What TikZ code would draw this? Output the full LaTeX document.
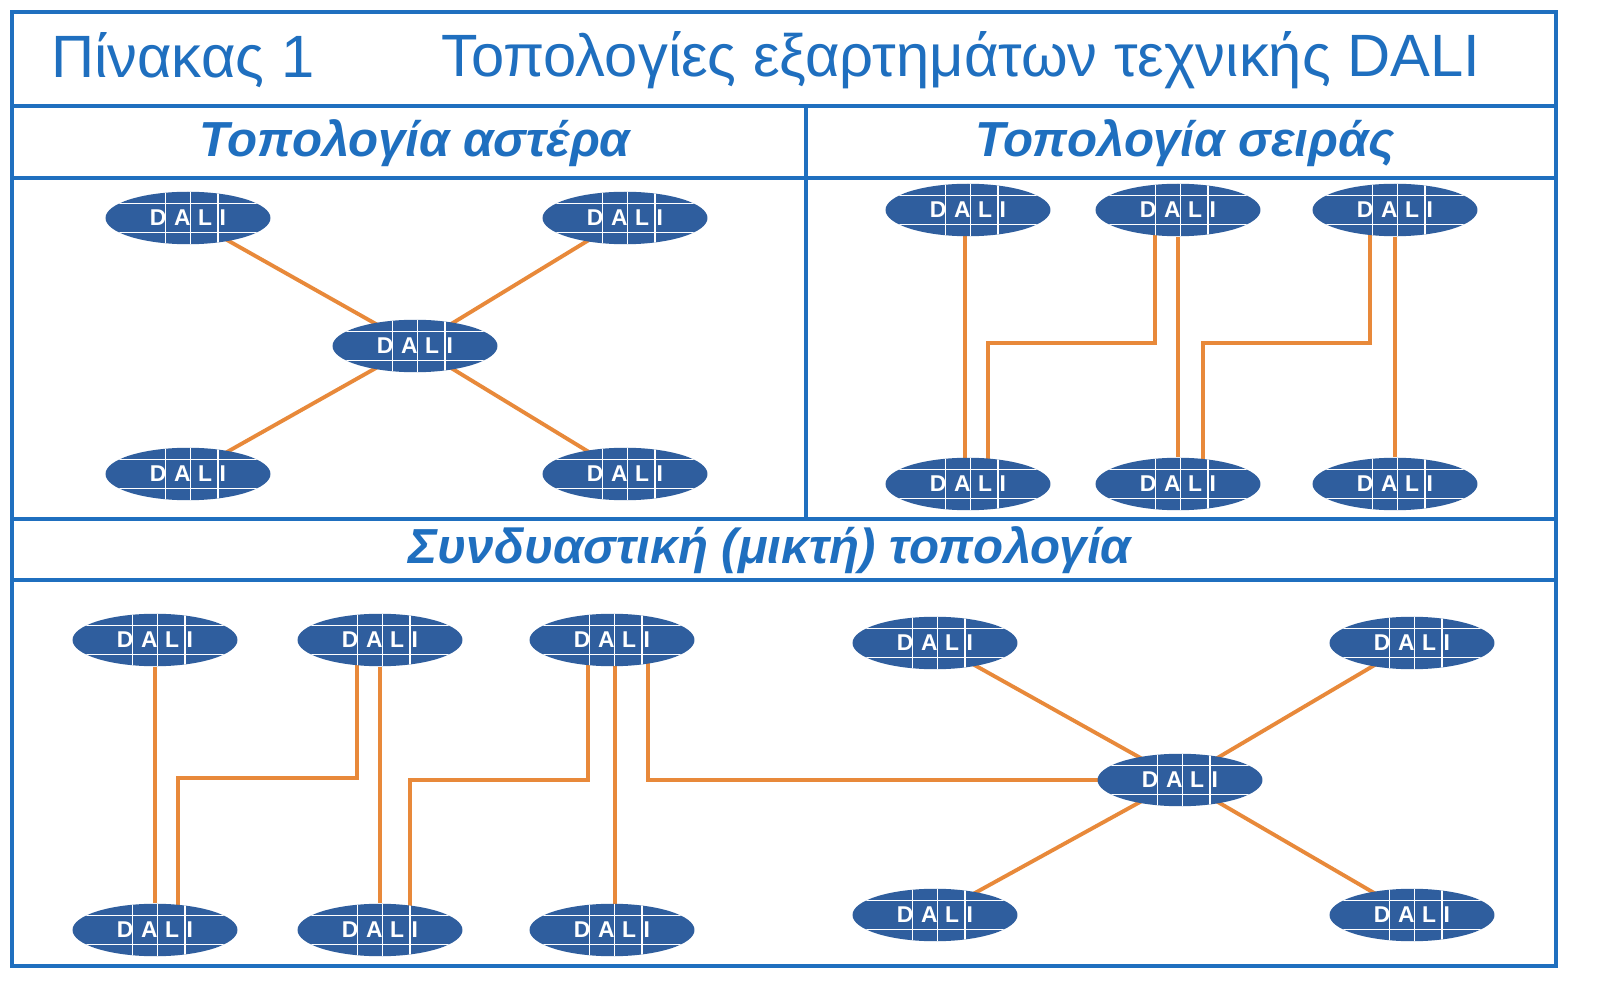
\documentclass[tikz,border=0pt]{standalone}
\usepackage{fontspec}
\setmainfont{Liberation Sans}
\usetikzlibrary{shapes.geometric,calc,backgrounds}
\definecolor{tblue}{HTML}{1F6FBF}
\definecolor{dblue}{HTML}{2F5E9E}
\definecolor{wire}{HTML}{E8893A}
\tikzset{
 dali/.style={ellipse,fill=dblue,minimum width=3.3cm,minimum height=1.05cm,inner sep=0pt,
  text=white,font=\bfseries\fontsize{13}{13}\selectfont,
  path picture={
   \draw[white,line width=0.8pt]
    ([yshift=-0.24cm]path picture bounding box.north west)--([yshift=-0.24cm]path picture bounding box.north east)
    ([yshift=0.24cm]path picture bounding box.south west)--([yshift=0.24cm]path picture bounding box.south east)
    ([xshift=-0.45cm]path picture bounding box.north)--([xshift=-0.45cm]path picture bounding box.south)
    ([xshift=0.05cm]path picture bounding box.north)--([xshift=0.05cm]path picture bounding box.south)
    ([xshift=0.6cm]path picture bounding box.north)--([xshift=0.6cm]path picture bounding box.south);
  }},
 wirel/.style={wire,line width=2.2pt},
 frame/.style={tblue,line width=2.5pt},
 head/.style={text=tblue,font=\bfseries\itshape\fontsize{28}{28}\selectfont},
 ttl/.style={text=tblue,font=\fontsize{34}{34}\selectfont,anchor=west}
}
\newcommand{\DL}{D\,\,A\,\,L\,\,I}
\begin{document}
\begin{tikzpicture}[x=0.02cm,y=-0.02cm]
% titles
\node[ttl] (t1) at (45,60) {Πίνακας 1};
\node[ttl] (t2) at (435,60) {Τοπολογίες εξαρτημάτων τεχνικής DALI};
\node[head] (h1) at (415,143) {Τοπολογία αστέρα};
\node[head] (h2) at (1185,143) {Τοπολογία σειράς};
\node[head] (h3) at (770,550) {Συνδυαστική (μικτή) τοπολογία};
% star
\node[dali] (a1) at (188,218) {\DL};
\node[dali] (a2) at (625,218) {\DL};
\node[dali] (ac) at (415,346) {\DL};
\node[dali] (a3) at (188,474) {\DL};
\node[dali] (a4) at (625,474) {\DL};
% series
\node[dali] (s1) at (968,210) {\DL};
\node[dali] (s2) at (1178,210) {\DL};
\node[dali] (s3) at (1395,210) {\DL};
\node[dali] (b1) at (968,484) {\DL};
\node[dali] (b2) at (1178,484) {\DL};
\node[dali] (b3) at (1395,484) {\DL};
% mixed
\node[dali] (m1) at (155,640) {\DL};
\node[dali] (m2) at (380,640) {\DL};
\node[dali] (m3) at (612,640) {\DL};
\node[dali] (n1) at (155,930) {\DL};
\node[dali] (n2) at (380,930) {\DL};
\node[dali] (n3) at (612,930) {\DL};
\node[dali] (x1) at (935,643) {\DL};
\node[dali] (x2) at (1412,643) {\DL};
\node[dali] (xc) at (1180,780) {\DL};
\node[dali] (x3) at (935,915) {\DL};
\node[dali] (x4) at (1412,915) {\DL};
\begin{scope}[on background layer]
\fill[white] (0,0) rectangle (1600,996);
\foreach \o in {a1,a2,a3,a4} \draw[wirel] (ac.center)--(\o.center);
\foreach \o in {x1,x2,x3,x4} \draw[wirel] (xc.center)--(\o.center);
\draw[wirel] ($(s1)+(-3,0)$)--($(b1)+(-3,0)$);
\draw[wirel] ($(s2)+(-23,0)$)--($(s2)+(-23,133)$)-|($(b1)+(20,0)$);
\draw[wirel] (s2)--(b2);
\draw[wirel] ($(s3)+(-25,0)$)--($(s3)+(-25,133)$)-|($(b2)+(25,0)$);
\draw[wirel] (s3)--(b3);
\draw[wirel] (m1)--(n1);
\draw[wirel] ($(m2)+(-23,0)$)--($(m2)+(-23,138)$)-|($(n1)+(23,0)$);
\draw[wirel] (m2)--(n2);
\draw[wirel] ($(m3)+(-24,0)$)--($(m3)+(-24,140)$)-|($(n2)+(30,0)$);
\draw[wirel] ($(m3)+(3,0)$)--($(n3)+(3,0)$);
\draw[wirel] ($(m3)+(36,0)$)|-(xc.center);
\end{scope}
% frames
\draw[frame] (12,12) rectangle (1556,966);
\draw[frame] (12,106)--(1556,106);
\draw[frame] (12,178)--(1556,178);
\draw[frame] (12,519)--(1556,519);
\draw[frame] (12,580)--(1556,580);
\draw[frame] (806,106)--(806,519);
\pgfresetboundingbox
\useasboundingbox (0,0) rectangle (1600,996);
\end{tikzpicture}
\end{document}
